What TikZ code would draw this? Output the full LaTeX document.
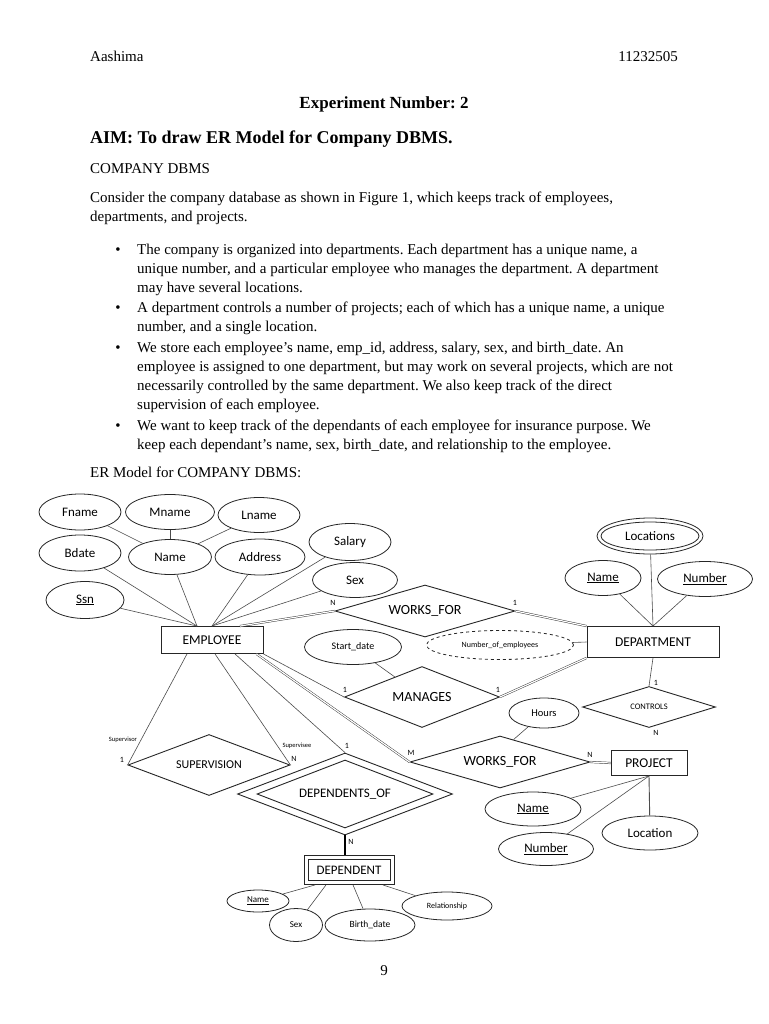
\documentclass[tikz,border=0pt]{standalone}
\usepackage{fontspec}
\setmainfont{Liberation Serif}
\newfontfamily\erfont{Carlito}
\usetikzlibrary{shapes.geometric,calc}
\frenchspacing
\tikzset{
 txt/.style={anchor=base west, inner sep=0pt, font=\fontsize{15}{18}\selectfont},
 attr/.style={ellipse, draw=black!85, line width=0.8pt, inner sep=0pt, font=\erfont\fontsize{13}{15}\selectfont},
 ent/.style={rectangle, draw=black!85, line width=0.9pt, inner sep=0pt, font=\erfont\fontsize{13.5}{15}\selectfont},
 rel/.style={diamond, draw=black!85, line width=0.9pt, inner sep=0pt, font=\erfont\fontsize{14}{16}\selectfont},
 conn/.style={draw=black!70, line width=0.6pt},
 total/.style={draw=black!80, double, double distance=1.2pt, line width=0.45pt},
 card/.style={inner sep=0pt, font=\erfont\fontsize{8}{9}\selectfont},
}
\begin{document}
\begin{tikzpicture}[x=1pt,y=-1pt]
\useasboundingbox[fill=white] (0,0) rectangle (768,1024);
% ---------- page text ----------
\node[txt] (h1) at (90,62) {Aashima};
\node[txt, anchor=base east] (h2) at (678,62) {11232505};
\node[anchor=base, inner sep=0pt, font=\bfseries\fontsize{17}{20}\selectfont] (t1) at (384,109) {Experiment Number: 2};
\node[anchor=base west, inner sep=0pt, font=\bfseries\fontsize{18}{21}\selectfont] (t2) at (90,144) {AIM: To draw ER Model for Company DBMS.};
\node[txt] (l0) at (90,174) {COMPANY DBMS};
\node[txt] (l1) at (90,203) {Consider the company database as shown in Figure 1, which keeps track of employees,};
\node[txt] (l2) at (90,222) {departments, and projects.};
\node[txt, anchor=base] (b1) at (118,254) {\textbullet};
\node[txt] (p1) at (137,254) {The company is organized into departments. Each department has a unique name, a};
\node[txt] (p2) at (137,273) {unique number, and a particular employee who manages the department. A department};
\node[txt] (p3) at (137,292) {may have several locations.};
\node[txt, anchor=base] (b2) at (118,312) {\textbullet};
\node[txt] (p4) at (137,312) {A department controls a number of projects; each of which has a unique name, a unique};
\node[txt] (p5) at (137,331) {number, and a single location.};
\node[txt, anchor=base] (b3) at (118,352) {\textbullet};
\node[txt] (p6) at (137,352) {We store each employee’s name, emp\_id, address, salary, sex, and birth\_date. An};
\node[txt] (p7) at (137,371) {employee is assigned to one department, but may work on several projects, which are not};
\node[txt] (p8) at (137,390) {necessarily controlled by the same department. We also keep track of the direct};
\node[txt] (p9) at (137,409) {supervision of each employee.};
\node[txt, anchor=base] (b4) at (118,430) {\textbullet};
\node[txt] (p10) at (137,430) {We want to keep track of the dependants of each employee for insurance purpose. We};
\node[txt] (p11) at (137,449) {keep each dependant’s name, sex, birth\_date, and relationship to the employee.};
\node[txt] (l3) at (90,477) {ER Model for COMPANY DBMS:};
\node[txt, anchor=base] (pg) at (384,975) {9};
% ---------- EMPLOYEE ----------
\node[ent, minimum width=102pt, minimum height=27pt] (emp) at (212,640) {EMPLOYEE};
\node[attr, minimum width=82pt, minimum height=36pt] (fname) at (80,512) {Fname};
\node[attr, minimum width=89pt, minimum height=35pt] (mname) at (170,512) {Mname};
\node[attr, minimum width=82pt, minimum height=35pt] (lname) at (259,515) {Lname};
\node[attr, minimum width=82pt, minimum height=36pt] (bdate) at (80,553) {Bdate};
\node[attr, minimum width=83pt, minimum height=35pt] (name) at (170,557) {Name};
\node[attr, minimum width=90pt, minimum height=36pt] (addr) at (260,557) {Address};
\node[attr, minimum width=82pt, minimum height=37pt] (salary) at (350,542) {Salary};
\node[attr, minimum width=85pt, minimum height=35pt] (sex) at (355,580) {Sex};
\node[attr, minimum width=78pt, minimum height=37pt] (ssn) at (85,600) {\underline{Ssn}};
\draw[conn] (fname) -- (name);
\draw[conn] (mname) -- (name);
\draw[conn] (lname) -- (name);
\draw[conn] (ssn) -- ($(emp.north)+(-15,0)$);
\draw[conn] (bdate) -- ($(emp.north)+(-15,0)$);
\draw[conn] (name) -- ($(emp.north)+(-15,0)$);
\draw[conn] (addr) -- (emp.north);
\draw[conn] (salary) -- (emp.north);
\draw[conn] (sex) -- (emp.north);
% ---------- DEPARTMENT ----------
\node[ent, minimum width=132pt, minimum height=31pt] (dept) at (653,642) {DEPARTMENT};
\node[ellipse, draw=black!85, line width=0.8pt, minimum width=106pt, minimum height=36pt, inner sep=0pt] (locout) at (650,536) {};
\node[attr, minimum width=98pt, minimum height=28pt] (loc) at (650,536) {Locations};
\node[attr, minimum width=76pt, minimum height=35pt] (dname) at (603,578) {\underline{Name}};
\node[attr, minimum width=95pt, minimum height=35pt] (dnum) at (705,579) {\underline{Number}};
\draw[conn] (locout) -- (dept.north);
\draw[conn] (dname) -- (dept.north);
\draw[conn] (dnum) -- (dept.north);
% ---------- WORKS_FOR (dept) ----------
\node[rel, aspect=3.46, minimum width=180pt, minimum height=52pt] (wf1) at (425,611) {WORKS\_FOR};
\draw[total] ($(emp.north)+(28,0)$) -- (wf1.west);
\draw[total] (wf1.east) -- (dept.north west);
\node[card] (c1) at (333,603) {N};
\node[card] (c2) at (515,603) {1};
\node[attr, dashed, minimum width=147pt, minimum height=29pt, font=\erfont\fontsize{8}{9}\selectfont] (noe) at (500,645) {Number\_of\_employees};
\draw[conn] (noe) -- (dept.west);
% ---------- MANAGES ----------
\node[rel, aspect=2.54, minimum width=155pt, minimum height=61pt] (mng) at (422,697) {MANAGES};
\node[attr, minimum width=97pt, minimum height=35pt, font=\erfont\fontsize{10}{12}\selectfont] (sd) at (353,647) {Start\_date};
\draw[conn] (sd) -- ($(mng.west)!0.65!(mng.north)$);
\draw[conn] (emp.south east) -- (mng.west);
\draw[total] (mng.east) -- (dept.south west);
\node[card] (c3) at (345,690) {1};
\node[card] (c4) at (498,690) {1};
% ---------- CONTROLS / PROJECT ----------
\node[rel, aspect=3.24, minimum width=133pt, minimum height=41pt, font=\erfont\fontsize{8.5}{10}\selectfont] (ctrl) at (649,707) {CONTROLS};
\node[ent, minimum width=76pt, minimum height=25pt] (proj) at (649,763) {PROJECT};
\draw[conn] (dept.south) -- (ctrl.north);
\draw[total] (ctrl.south) -- (proj.north);
\node[card] (c5) at (656,683) {1};
\node[card] (c6) at (656,733) {N};
\node[rel, aspect=3.46, minimum width=180pt, minimum height=52pt] (wf2) at (500,762) {WORKS\_FOR};
\node[attr, minimum width=70pt, minimum height=30pt, font=\erfont\fontsize{10.5}{12}\selectfont] (hours) at (544,713) {Hours};
\draw[conn] (hours) -- ($(wf2.north)!0.15!(wf2.east)$);
\draw[total] ($(emp.south east)+(-7,0)$) -- (wf2.west);
\draw[total] (wf2.east) -- (proj.west);
\node[card] (c7) at (411,753) {M};
\node[card] (c8) at (590,755) {N};
\node[attr, minimum width=96pt, minimum height=34pt] (pname) at (533,809) {\underline{Name}};
\node[attr, minimum width=95pt, minimum height=33pt] (pnum) at (546,849) {\underline{Number}};
\node[attr, minimum width=96pt, minimum height=34pt] (ploc) at (650,833) {Location};
\draw[conn] (proj.south) -- (pname);
\draw[conn] (proj.south) -- (pnum);
\draw[conn, line width=0.9pt] (proj.south) -- (ploc);
% ---------- SUPERVISION ----------
\node[rel, aspect=2.66, minimum width=162pt, minimum height=61pt, font=\erfont\fontsize{12}{14}\selectfont] (sup) at (209,765) {SUPERVISION};
\draw[conn] ($(emp.south)+(-25,0)$) -- (sup.west);
\draw[conn] ($(emp.south)+(3,0)$) -- (sup.east);
\node[card, font=\erfont\fontsize{6.5}{8}\selectfont] (c9) at (123,740) {Supervisor};
\node[card] (c10) at (122,760) {1};
\node[card, font=\erfont\fontsize{6.5}{8}\selectfont] (c11) at (297,746) {Supervisee};
\node[card] (c12) at (294,759) {N};
% ---------- DEPENDENTS_OF / DEPENDENT ----------
\node[diamond, draw=black!85, line width=0.9pt, inner sep=0pt, aspect=2.63, minimum width=215pt, minimum height=82pt] (depof) at (345,794) {};
\node[rel, aspect=2.59, minimum width=176pt, minimum height=68pt, font=\erfont\fontsize{13}{15}\selectfont] (depofin) at (345,794) {DEPENDENTS\_OF};
\draw[conn] ($(emp.south)+(23,0)$) -- (depof.north);
\node[card] (c13) at (347,746) {1};
\node[ent, minimum width=90pt, minimum height=29pt] (depout) at (349,870) {};
\node[ent, minimum width=82pt, minimum height=21pt, font=\erfont\fontsize{13}{15}\selectfont] (dep) at (349,870) {DEPENDENT};
\draw[draw=black, line width=1.5pt] (depof.south) -- (depout.north -| depof.south);
\node[card] (c14) at (351,842) {N};
\node[attr, minimum width=62pt, minimum height=22pt, font=\erfont\fontsize{9}{10}\selectfont] (dn) at (258,901) {\underline{Name}};
\node[attr, minimum width=53pt, minimum height=33pt, font=\erfont\fontsize{9}{10}\selectfont] (dsex) at (296,925) {Sex};
\node[attr, minimum width=90pt, minimum height=32pt, font=\erfont\fontsize{9.5}{11}\selectfont] (dbd) at (370,925) {Birth\_date};
\node[attr, minimum width=90pt, minimum height=28pt, font=\erfont\fontsize{8}{9}\selectfont] (drel) at (447,906) {Relationship};
\draw[conn] ($(depout.south)+(-34,0)$) -- (dn);
\draw[conn] ($(depout.south)+(-23,0)$) -- (dsex);
\draw[conn] ($(depout.south)+(4,0)$) -- (dbd);
\draw[conn] ($(depout.south)+(34,0)$) -- (drel);
\end{tikzpicture}
\end{document}
